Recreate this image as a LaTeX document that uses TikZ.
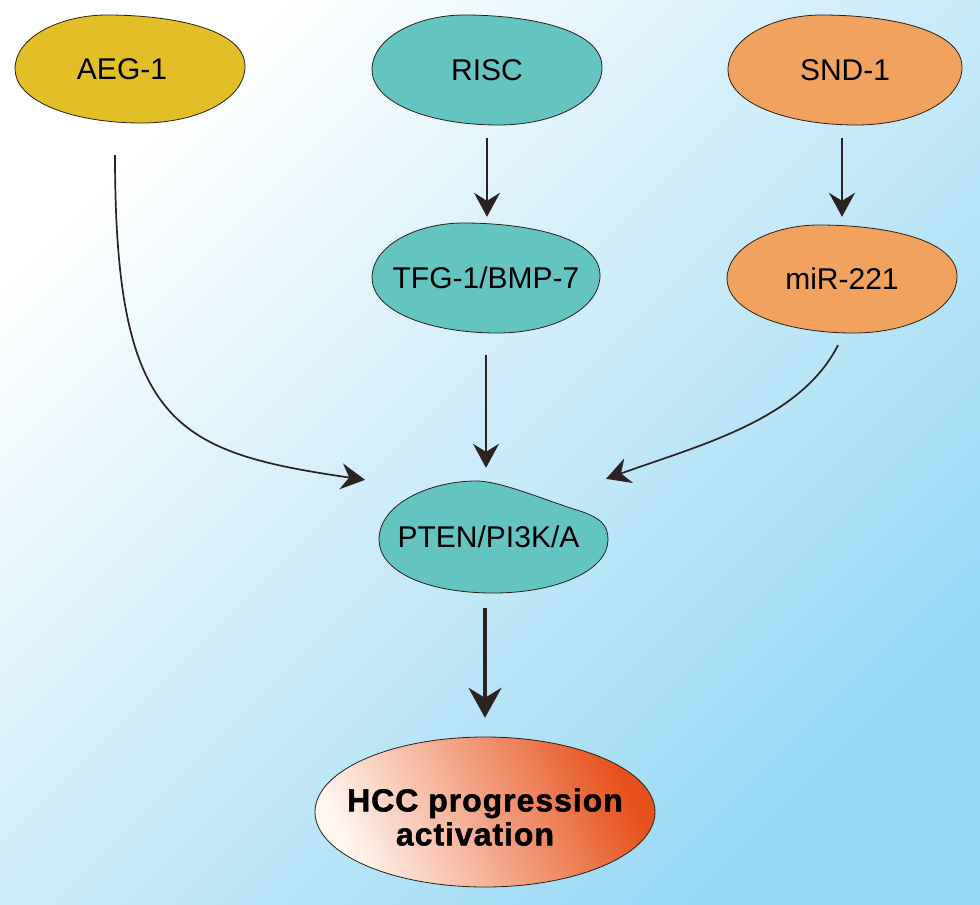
\documentclass[tikz,border=0pt]{standalone}
\usepackage{fontspec}
\setmainfont{Liberation Sans}
\newfontfamily\heavyfont[BoldFeatures={FakeBold=1.5,LetterSpace=3}]{Liberation Sans}
\usetikzlibrary{arrows.meta,shapes.geometric}
\definecolor{bgblue}{HTML}{96D8F4}
\definecolor{aegc}{HTML}{E3BF27}
\definecolor{tealc}{HTML}{63C4C1}
\definecolor{orc}{HTML}{F0A25E}
\definecolor{arrc}{HTML}{2B2222}
\definecolor{hccr}{HTML}{E6501A}
\definecolor{hccl}{HTML}{FFF6F0}
\definecolor{edgec}{HTML}{2A2015}
\tikzset{
 blobline/.style={draw=edgec, line width=0.8pt},
 blobnode/.style={ellipse, inner sep=0pt, font=\fontsize{30pt}{36pt}\selectfont},
 conn/.style={draw=arrc, line width=1.7pt, -{Stealth[length=24pt,width=26pt,inset=8pt]}},
 bigconn/.style={draw=arrc, line width=3.2pt, -{Stealth[length=30pt,width=33pt,inset=10pt]}},
}
\newcommand{\blobA}[5]{%
 \begin{scope}[shift={(#1,#2)},xscale=#3,yscale=#4]
 \filldraw[blobline,fill=#5] (-1,0) .. controls (-1,-0.6) and (-0.6,-1) .. (-0.2,-1)
   .. controls (0.35,-1) and (1,-0.75) .. (1,-0.05)
   .. controls (1,0.55) and (0.6,1) .. (0.1,1)
   .. controls (-0.5,1) and (-1,0.6) .. cycle;
 \end{scope}}
\newcommand{\blobB}[5]{%
 \begin{scope}[shift={(#1,#2)},xscale=#3,yscale=#4]
 \filldraw[blobline,fill=#5] (-1,0.05) .. controls (-1,-0.6) and (-0.55,-1) .. (-0.15,-1)
   .. controls (0.05,-1) and (0.4,-0.7) .. (0.7,-0.5)
   .. controls (0.95,-0.35) and (1,-0.2) .. (1,0.05)
   .. controls (1,0.6) and (0.55,1) .. (0,1)
   .. controls (-0.6,1) and (-1,0.6) .. cycle;
 \end{scope}}
\begin{document}
\begin{tikzpicture}[x=1pt,y=-1pt]
\useasboundingbox (0,0) rectangle (980,905);
\shade[top color=white, bottom color=bgblue, shading angle=45] (0,0) rectangle (980,905);

\blobA{130}{69}{115}{54}{aegc}
\blobA{487}{70}{115}{55}{tealc}
\blobA{845}{70}{117}{55}{orc}
\blobA{486}{278}{114}{55}{tealc}
\blobA{842}{279}{115}{54}{orc}
\blobB{493.5}{537}{114.5}{56}{tealc}

\node[blobnode, minimum width=230pt, minimum height=108pt] (aeg) at (130,69) {\hspace*{-16pt}AEG-1};
\node[blobnode, minimum width=230pt, minimum height=110pt] (risc) at (487,70) {RISC};
\node[blobnode, minimum width=234pt, minimum height=110pt] (snd) at (845,70) {SND-1};
\node[blobnode, minimum width=228pt, minimum height=110pt] (tfg) at (486,278) {TFG-1/BMP-7};
\node[blobnode, minimum width=230pt, minimum height=108pt] (mir) at (842,279) {miR-221};
\node[blobnode, minimum width=229pt, minimum height=112pt] (pten) at (493.5,537) {\hspace*{-10pt}PTEN/PI3K/A};

\shade[draw=edgec, line width=0.8pt, left color=hccl, right color=hccr, shading angle=115] (485,812) ellipse[x radius=170, y radius=75];
\node[ellipse, inner sep=0pt, minimum width=340pt, minimum height=150pt, align=center, font=\heavyfont\bfseries\fontsize{32pt}{34pt}\selectfont] (hcc) at (485,817) {HCC progression\\\hspace*{-20pt}activation};

\draw[conn, shorten <=13pt, shorten >=6pt] (risc.south) -- (risc.south |- tfg.north);
\draw[conn, shorten <=13pt, shorten >=8pt] (snd.south -| mir.north) -- (mir.north);
\draw[conn, shorten <=22pt, shorten >=13pt] (tfg.south) -- (tfg.south |- pten.north);
\draw[bigconn, shorten <=15pt, shorten >=24pt] (pten.south -| hcc.north) -- (hcc.north);
\draw[conn] ([shift={(-15pt,-32pt)}]aeg.south) .. controls (115,425) and (175,452) .. ([shift={(-42.5pt,17.4pt)}]pten.north west);
\draw[conn] ([shift={(-4pt,-12pt)}]mir.south) .. controls (800,420) and (700,445) .. ([shift={(26.5pt,18.4pt)}]pten.north east);
\end{tikzpicture}
\end{document}
